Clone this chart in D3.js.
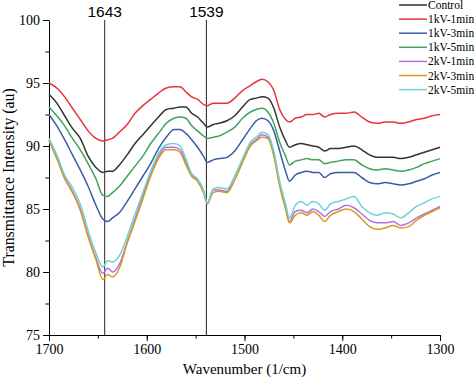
<!DOCTYPE html>
<html>
<head>
<meta charset="utf-8">
<script src="https://cdn.jsdelivr.net/npm/d3@7"></script>
<style>
  body { margin: 0; background: #fff; }
  .tick text { font-family: "Liberation Serif", "Times New Roman", serif; }
</style>
</head>
<body>
<div id="chart"></div>
<script>
const WIDTH = 474
const HEIGHT = 385
const margin = {top: 20, right: 34, bottom: 50, left: 49};
const width = WIDTH - margin.left - margin.right;
const height = HEIGHT - margin.top - margin.bottom;

// wavenumbers (1/cm)
const wavenumbers = [1700, 1692, 1684, 1676, 1668, 1660, 1652, 1645, 1640, 1635, 1628, 1620, 1612, 1604,
  1596, 1588, 1580, 1572, 1566, 1560, 1554, 1548, 1542, 1538, 1532, 1526, 1518, 1510, 1502, 1494, 1488,
  1482, 1476, 1470, 1464, 1458, 1454, 1448, 1442, 1436, 1430, 1424, 1418, 1412, 1404, 1396, 1388, 1380,
  1372, 1364, 1356, 1348, 1340, 1332, 1324, 1316, 1308, 1300];

const control = [94.1, 93.4, 92.4, 91.4, 90.6, 89.2, 88.3, 87.9, 88.0, 88.0, 88.5, 89.3, 90.2, 90.9,
  91.6, 92.3, 92.9, 93.0, 93.1, 93.1, 92.6, 92.3, 91.8, 91.5, 91.7, 91.8, 92.0, 92.4, 93.1, 93.7, 93.8,
  93.9, 93.8, 93.0, 91.5, 90.4, 89.9, 90.1, 90.2, 90.1, 90.0, 89.9, 89.6, 89.8, 89.8, 89.9, 90.0, 89.7,
  89.3, 89.1, 89.1, 89.1, 89.0, 89.1, 89.3, 89.5, 89.7, 89.9];
const kv1min1 = [95.0, 94.6, 93.9, 93.0, 92.1, 91.2, 90.6, 90.4, 90.5, 90.6, 91.1, 91.7, 92.6, 93.2,
  93.7, 94.2, 94.6, 94.7, 94.7, 94.3, 93.9, 93.7, 93.3, 93.2, 93.4, 93.4, 93.4, 93.8, 94.4, 94.8, 95.1,
  95.3, 95.1, 94.4, 92.9, 92.1, 91.9, 92.2, 92.3, 92.5, 92.5, 92.6, 92.3, 92.5, 92.6, 92.6, 92.7, 92.3,
  91.9, 91.8, 91.9, 91.9, 91.8, 91.9, 92.1, 92.2, 92.4, 92.5];
const kv1min3 = [92.5, 91.6, 90.5, 89.3, 88.1, 86.8, 85.3, 84.2, 84.0, 84.3, 84.7, 85.6, 86.6, 87.6,
  88.6, 89.8, 90.7, 91.3, 91.3, 91.0, 90.5, 89.9, 89.2, 88.7, 88.9, 89.0, 89.1, 89.6, 90.5, 91.4, 92.0,
  92.2, 92.0, 91.2, 89.6, 88.0, 87.2, 87.7, 87.9, 88.0, 87.9, 87.9, 87.5, 87.8, 87.9, 87.9, 87.9, 87.5,
  87.1, 87.0, 87.1, 87.0, 86.9, 87.0, 87.2, 87.4, 87.7, 87.9];
const kv1min5 = [93.1, 92.4, 91.6, 90.6, 89.7, 88.6, 87.4, 86.1, 86.0, 86.3, 86.8, 87.6, 88.4, 89.2,
  90.2, 91.0, 91.8, 92.2, 92.3, 92.2, 91.6, 91.2, 90.8, 90.6, 90.7, 90.8, 91.1, 91.5, 92.2, 92.7, 92.9,
  93.0, 92.7, 91.8, 90.3, 89.2, 88.5, 88.8, 88.9, 89.0, 88.9, 88.9, 88.6, 88.7, 88.8, 88.9, 88.9, 88.5,
  88.2, 88.1, 88.2, 88.1, 88.0, 88.1, 88.3, 88.6, 88.8, 89.0];
const kv2min1 = [90.5, 89.1, 87.5, 86.4, 85.0, 82.9, 81.1, 79.9, 80.3, 80.0, 80.6, 82.4, 84.2, 86.0,
  87.8, 89.2, 89.9, 89.9, 89.7, 88.7, 87.7, 87.3, 86.4, 85.5, 86.5, 86.5, 86.4, 87.6, 88.8, 90.1, 90.5,
  90.9, 90.7, 89.3, 87.0, 85.1, 84.0, 84.8, 84.9, 84.7, 85.0, 84.8, 84.4, 84.8, 85.0, 85.3, 85.1, 84.6,
  84.1, 83.9, 83.9, 84.0, 83.7, 83.9, 84.3, 84.6, 84.9, 85.2];
const kv2min3 = [90.4, 89.0, 87.4, 86.3, 84.9, 82.8, 81.0, 79.4, 79.8, 79.6, 80.3, 82.3, 84.0, 85.8,
  87.6, 89.0, 89.7, 89.7, 89.5, 88.5, 87.6, 87.2, 86.3, 85.4, 86.3, 86.4, 86.3, 87.3, 88.7, 90.0, 90.4,
  90.7, 90.6, 89.2, 86.8, 85.0, 83.9, 84.5, 84.7, 84.5, 84.8, 84.5, 84.0, 84.5, 84.8, 85.0, 84.8, 84.2,
  83.6, 83.4, 83.5, 83.7, 83.5, 83.6, 84.1, 84.5, 84.8, 85.1];
const kv2min5 = [90.6, 89.3, 87.7, 86.7, 85.4, 83.3, 81.5, 80.4, 80.9, 80.8, 81.3, 82.8, 84.6, 86.3,
  88.0, 89.4, 90.1, 90.2, 90.0, 89.0, 87.8, 87.4, 86.5, 85.5, 86.6, 86.7, 86.6, 87.6, 89.0, 90.3, 90.7,
  91.1, 90.9, 89.6, 87.2, 85.4, 84.3, 85.3, 85.6, 85.3, 85.6, 85.4, 84.9, 85.4, 85.6, 85.8, 86.0, 85.2,
  84.7, 84.5, 84.7, 84.6, 84.3, 84.7, 85.2, 85.5, 85.8, 86.0];

const seriesNames = ["Control", "1kV-1min", "1kV-3min", "1kV-5min", "2kV-1min", "2kV-3min", "2kV-5min"];
const seriesColors = ["#333333", "#e8333b", "#3a5ba8", "#3fa35c", "#b56fe3", "#d69b1e", "#6ed2db"];
const seriesValues = [control, kv1min1, kv1min3, kv1min5, kv2min1, kv2min3, kv2min5];

const markers = [1643, 1539];
const xTicks = [1700, 1600, 1500, 1400, 1300];
const yTicks = [75, 80, 85, 90, 95, 100];

const svg = d3.select('#chart')
  .append('svg')
    .attr('width', WIDTH)
    .attr('height', HEIGHT);

const container = svg.append('g')
    .attr('transform', `translate(${margin.left},${margin.top})`);

const xscale = d3.scaleLinear().domain([1700, 1300]).range([0, width]);
const yscale = d3.scaleLinear().domain([75, 100]).range([height, 0]);

// ejes: menores primero, luego los principales con etiquetas
const serif = '"Liberation Serif", "Times New Roman", serif';

container.append('g')
    .attr('transform', `translate(0, ${height})`)
    .call(d3.axisBottom(xscale).tickValues(d3.range(1700, 1299, -50)).tickSize(3.5).tickFormat(''))
    .call(g => g.select('.domain').remove());
container.append('g')
    .call(d3.axisLeft(yscale).tickValues(d3.range(75, 100.1, 2.5)).tickSize(3.5).tickFormat(''))
    .call(g => g.select('.domain').remove());

const xAxis = container.append('g')
    .attr('transform', `translate(0, ${height})`)
    .call(d3.axisBottom(xscale).tickValues(xTicks).tickSize(6).tickPadding(3).tickSizeOuter(0).tickFormat(d3.format('d')));
xAxis.selectAll('text').style('font-size', '14px').style('font-family', serif).attr('fill', '#000');

const yAxis = container.append('g')
    .call(d3.axisLeft(yscale).tickValues(yTicks).tickSize(6).tickPadding(3).tickSizeOuter(0));
yAxis.selectAll('text').style('font-size', '14px').style('font-family', serif).attr('fill', '#000');

// lineas verticales de los picos
container.selectAll('.marker')
  .data(markers)
  .enter().append('line')
    .attr('x1', d => xscale(d))
    .attr('x2', d => xscale(d))
    .attr('y1', 0)
    .attr('y2', height)
    .attr('stroke', '#222')
    .attr('stroke-width', 1);

container.selectAll('.markerlabel')
  .data(markers)
  .enter().append('text')
    .attr('x', d => xscale(d))
    .attr('y', -3)
    .attr('text-anchor', 'middle')
    .style('font-family', '"Liberation Sans", Arial, sans-serif')
    .style('font-size', '15.5px')
    .text(d => d);

// curvas
const line = d3.line()
    .x((d, i) => xscale(wavenumbers[i]))
    .y(d => yscale(d))
    .curve(d3.curveMonotoneX);

container.selectAll('.serie')
  .data(seriesValues)
  .enter().append('path')
    .attr('d', line)
    .attr('fill', 'none')
    .attr('stroke', (d, i) => seriesColors[i])
    .attr('stroke-width', 1.5);

// leyenda
const legend = svg.append('g').attr('transform', 'translate(399, 5)');
seriesNames.forEach((name, i) => {
  const row = legend.append('g').attr('transform', `translate(0, ${i * 14.1})`);
  row.append('line')
      .attr('x1', 0).attr('x2', 28)
      .attr('stroke', seriesColors[i])
      .attr('stroke-width', 1.5);
  row.append('text')
      .attr('x', 29)
      .attr('dy', '0.35em')
      .style('font-family', serif)
      .style('font-size', '11.5px')
      .text(name);
});

// nombres de los ejes
svg.append('text')
    .attr('x', margin.left + width / 2)
    .attr('y', 374)
    .attr('text-anchor', 'middle')
    .style('font-family', serif)
    .style('font-size', '15px')
    .text('Wavenumber (1/cm)');

svg.append('text')
    .attr('transform', `translate(14, ${margin.top + height / 2}) rotate(-90)`)
    .attr('text-anchor', 'middle')
    .style('font-family', serif)
    .style('font-size', '15.8px')
    .text('Transmittance Intensity (au)');
</script>
</body>
</html>
